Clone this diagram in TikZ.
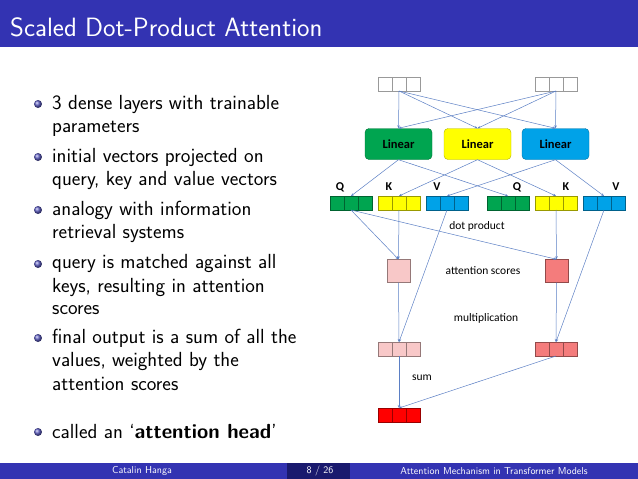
\documentclass[tikz,border=0pt]{standalone}
\usepackage{fontspec}
\newfontfamily\carl{Carlito}
\usetikzlibrary{arrows.meta}
\definecolor{bbar}{HTML}{3333B2}
\definecolor{bdark}{HTML}{1A1A6E}
\definecolor{lgreen}{HTML}{00A550}
\definecolor{lyel}{HTML}{FFFF00}
\definecolor{lblue}{HTML}{00A2E8}
\definecolor{pk1}{HTML}{F8C8C8}
\definecolor{pk2}{HTML}{F47C7C}
\definecolor{rd}{HTML}{FF0000}
\definecolor{ar}{HTML}{5B7FC4}
\begin{document}
\begin{tikzpicture}[x=1pt,y=-1pt,
  cell/.style={draw=#1!60!black,minimum width=14pt,minimum height=14pt,inner sep=0pt,outer sep=0pt,line width=0.5pt},
  lin/.style={rounded corners=4pt,draw=#1!70!black,fill=#1,minimum width=67pt,minimum height=31pt,font=\carl\bfseries\fontsize{12.5}{14}\selectfont},
  con/.style={draw=ar,line width=0.5pt,-{Stealth[length=3pt,width=2.5pt]}},
  lbl/.style={font=\carl\fontsize{11.5}{13}\selectfont},
  qkv/.style={font=\carl\bfseries\fontsize{12}{13}\selectfont},
  bul/.style={circle,inner sep=0pt,minimum size=8pt,ball color=bbar!80,shading=ball},
  btxt/.style={anchor=west,font=\sffamily\fontsize{20.4}{22}\selectfont,inner sep=0pt}]
\useasboundingbox (0,0) rectangle (638,479);
\fill[bbar] (0,0) rectangle (638,47);
\node[anchor=west,text=white,font=\sffamily\fontsize{26.5}{28}\selectfont,inner sep=0pt] (title) at (10,27) {Scaled Dot-Product Attention};
\fill[bbar] (0,463) rectangle (638,479);
\fill[bdark] (287,463) rectangle (350,479);
\node[text=white,font=\sffamily\fontsize{10}{12}\selectfont] (f1) at (142,471) {Catalin Hanga};
\node[text=white,font=\sffamily\fontsize{10}{12}\selectfont] (f2) at (320,471) {8 / 26};
\node[text=white,font=\sffamily\fontsize{10}{12}\selectfont] (f3) at (494,471) {Attention Mechanism in Transformer Models};
\foreach \n/\y in {b1/104,b2/157,b3/210,b4/264,b5/338,b6/432}{\node[bul] (\n) at (38,\y) {};}
\node[btxt] (t1a) at (52,104) {3 dense layers with trainable};
\node[btxt] (t1b) at (52,129) {parameters};
\node[btxt] (t2a) at (52,157) {initial vectors projected on};
\node[btxt] (t2b) at (52,180) {query, key and value vectors};
\node[btxt] (t3a) at (52,210) {analogy with information};
\node[btxt] (t3b) at (52,233) {retrieval systems};
\node[btxt] (t4a) at (52,264) {query is matched against all};
\node[btxt] (t4b) at (52,287) {keys, resulting in attention};
\node[btxt] (t4c) at (52,310) {scores};
\node[btxt] (t5a) at (52,338) {final output is a sum of all the};
\node[btxt] (t5b) at (52,361) {values, weighted by the};
\node[btxt] (t5c) at (52,384) {attention scores};
\node[btxt] (t6a) at (52,432) {called an `\textbf{attention head}'};
\newcommand\myvec[4]{%
  \node[cell=#4,fill=#4,anchor=west] (#1a) at (#2,#3) {};
  \node[cell=#4,fill=#4,anchor=west] (#1b) at (#2+14,#3) {};
  \node[cell=#4,fill=#4,anchor=west] (#1c) at (#2+28,#3) {};}
\myvec{in1}{378}{84}{white}
\myvec{in2}{535}{84}{white}
\node[lin=lgreen] (L1) at (398.5,144) {Linear};
\node[lin=lyel] (L2) at (477.5,144) {Linear};
\node[lin=lblue] (L3) at (555.5,144) {Linear};
\myvec{q1}{330}{203}{lgreen}
\myvec{k1}{378}{203}{lyel}
\myvec{v1}{426}{203}{lblue}
\myvec{q2}{487}{203}{lgreen}
\myvec{k2}{535}{203}{lyel}
\myvec{v2}{583}{203}{lblue}
\node[qkv] (lq1) at (340,187) {Q};
\node[qkv] (lk1) at (389,187) {K};
\node[qkv] (lv1) at (437,187) {V};
\node[qkv] (lq2) at (517,187) {Q};
\node[qkv] (lk2) at (566,187) {K};
\node[qkv] (lv2) at (616,187) {V};
\node[draw=pk1!60!black,fill=pk1,minimum size=23pt,inner sep=0pt] (s1) at (398.5,271) {};
\node[draw=pk2!60!black,fill=pk2,minimum size=23pt,inner sep=0pt] (s2) at (556.5,271) {};
\myvec{w1}{378}{349}{pk1}
\myvec{w2}{535}{349}{pk2}
\myvec{o}{378}{415}{rd}
\node[lbl] (dp) at (477,226) {dot product};
\node[lbl] (as) at (483,271) {attention scores};
\node[lbl] (mu) at (486,318) {multiplication};
\node[lbl] (su) at (422,378) {sum};
\foreach \s in {in1b,in2b}{
  \draw[con] (\s.south) -- (L1.north);
  \draw[con] (\s.south) -- (L2.north);
  \draw[con] (\s.south) -- (L3.north);}
\draw[con] (L1.south) -- (q1b.north);
\draw[con] (L1.south) -- (q2b.north);
\draw[con] (L2.south) -- (k1b.north);
\draw[con] (L2.south) -- (k2b.north);
\draw[con] (L3.south) -- (v1b.north);
\draw[con] (L3.south) -- (v2b.north);
\draw[con] (q1b.south) -- (s1.north);
\draw[con] (q1b.south) -- (s2.north);
\draw[con] (k1b.south) -- (s1.north);
\draw[con] (k2b.south) -- (s2.north);
\draw[con] (v1b.south) -- (w1b.north);
\draw[con] (v2b.south) -- (w2b.north);
\draw[con] (s1.south) -- (w1b.north);
\draw[con] (s2.south) -- (w2b.north);
\draw[con] (w1b.south) -- (ob.north);
\draw[con] (w2b.south) -- (ob.north);
\end{tikzpicture}
\end{document}
